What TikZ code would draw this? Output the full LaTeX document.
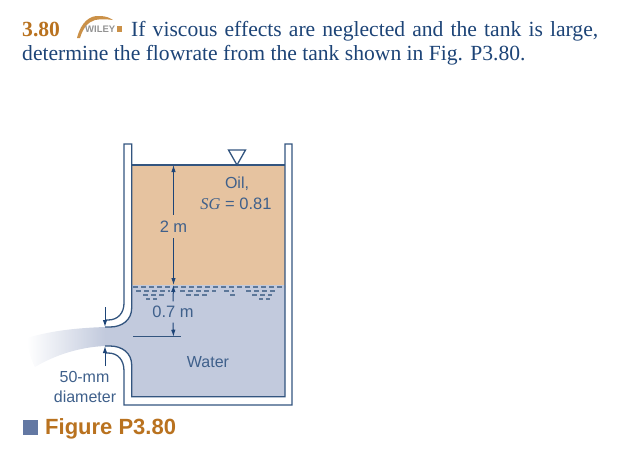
\documentclass[tikz,border=0pt]{standalone}
\usepackage{fontspec}
\usetikzlibrary{arrows.meta}
\setmainfont{Liberation Serif}
\setsansfont{Liberation Sans}
\begin{document}
\begin{tikzpicture}[x=1pt,y=-1pt,
  wall/.style={draw=wallc,line width=1.3pt},
  dim/.style={draw=textc,line width=1pt},
  arrowdim/.style={dim,-{Latex[length=7pt,width=4.5pt]}},
  lbl/.style={font=\sffamily\fontsize{16.5}{18}\selectfont,text=textc!85,inner sep=0pt,align=center},
  lblsm/.style={font=\sffamily\fontsize{16}{18}\selectfont,text=textc!85,inner sep=0pt,align=center},
  body/.style={font=\fontsize{21.6}{24}\selectfont,text=textc,inner sep=0pt,anchor=base west},
  ripple/.style={draw=wallc!80,line width=1.1pt,dash pattern=on 5pt off 3pt}]
\definecolor{textc}{HTML}{1D4477}
\definecolor{wallc}{HTML}{33557F}
\definecolor{oilc}{HTML}{E6C3A0}
\definecolor{waterc}{HTML}{C2CADD}
\definecolor{orangec}{HTML}{B9721F}
\definecolor{logoc}{HTML}{CB9148}
\definecolor{squarec}{HTML}{6378A3}
\useasboundingbox (0,0) rectangle (631,474);
% jet
\shade[left color=white,right color=waterc,shading angle=90]
  (105,327) .. controls (75,328) and (50,331) .. (27,338)
  .. controls (28,350) and (31,360) .. (35,367)
  .. controls (55,355) and (80,347) .. (105,346) -- cycle;
% fluids
\fill[waterc] (131.7,285) -- (285,285) -- (285,396.7) -- (131.7,396.7) -- (131.7,365)
  .. controls (131.7,353) and (122,346) .. (110,346) -- (105,346) -- (105,327) -- (110,327)
  .. controls (122,327) and (131.7,320) .. (131.7,308) -- cycle;
\fill[oilc] (131.7,165) rectangle (285,285);
% walls
\draw[wall] (105,320) -- (108,320) .. controls (118,320) and (124,313) .. (124,303)
  -- (124,144) -- (131.7,144) -- (131.7,308)
  .. controls (131.7,320) and (122,327) .. (110,327) -- (105,327);
\draw[wall] (105,346) -- (110,346) .. controls (122,346) and (131.7,353) .. (131.7,365)
  -- (131.7,396.7) -- (285,396.7) -- (285,144) -- (292,144) -- (292,405) -- (124,405)
  -- (124,371) .. controls (124,360) and (118,353) .. (108,353) -- (105,353);
\draw[wall] (131.7,165) -- (285,165);
% free surface symbol
\draw[wall] (228.5,150) -- (245.5,150) -- (237,165) -- cycle;
% ripples
\draw[ripple] (133,287) -- (285,287);
\draw[ripple] (136,291) -- (170,291) (180,291) -- (216,291) (224,291) -- (234,291) (246,291) -- (276,291);
\draw[ripple] (143,295) -- (166,295) (186,295) -- (208,295) (230,295) -- (235,295) (252,295) -- (272,295);
\draw[ripple,dash pattern=on 4pt off 3pt] (146,299) -- (158,299) (259,299) -- (272,299);
% dimensions
\node[lbl] (twom) at (173.5,226.5) {2 m};
\node[lbl] (sevenm) at (173,311.5) {0.7 m};
\coordinate (oiltop) at (173.5,165);
\coordinate (oilbot) at (173.5,285);
\coordinate (nozline) at (173.5,336.7);
\draw[arrowdim] (twom.north) ++(0,-6) -- (oiltop);
\draw[arrowdim] (twom.south) ++(0,6) -- (oilbot);
\draw[arrowdim] (sevenm.north) ++(0,-4) -- (oilbot);
\draw[arrowdim] (sevenm.south) ++(0,5) -- (nozline);
\draw[wall] (133,336.7) -- (181,336.7);
\coordinate (jettop) at (105,327);
\coordinate (jetbot) at (105,346);
\draw[arrowdim] (105,307) -- (jettop);
\draw[arrowdim] (105,366) -- (jetbot);
% labels
\node[lblsm] (oil) at (237,183.5) {Oil,};
\node[lbl,anchor=base] (sg) at (236,209) {\textit{\rmfamily SG} = 0.81};
\node[lblsm] (water) at (208,362.5) {Water};
\node[lblsm] (dia1) at (84.5,376.5) {50-mm};
\node[lblsm] (dia2) at (85,396.5) {diameter};
% figure caption
\fill[squarec] (23,419.5) rectangle (38,434.5);
\node[font=\sffamily\bfseries\fontsize{22}{24}\selectfont,text=orangec,inner sep=0pt,anchor=base west] (fig) at (45,434.5) {Figure P3.80};
% problem text
\node[font=\bfseries\fontsize{21.6}{24}\selectfont,text=orangec,inner sep=0pt,anchor=base west] (num) at (22,36.5) {3.80};
\fill[logoc] (77,38) .. controls (81,22) and (90,15) .. (100,16) .. controls (106,16) and (110,18) .. (113,20)
  .. controls (106,19) and (100,19) .. (95,20) .. controls (88,22) and (83,28) .. (80,38) -- cycle;
\node[font=\sffamily\bfseries\fontsize{9.5}{10}\selectfont,text=gray!85,inner sep=0pt,anchor=base west] (wiley) at (85,32.5) {WILEY};
\fill[logoc] (117,26) rectangle (122,31.5);
\node[body] (l1) at (131,36.5) {\makebox[467pt][s]{If viscous effects are neglected and the tank is large,}};
\node[body] (l2) at (22,60.5) {determine the flowrate from the tank shown in Fig. P3.80.};
\end{tikzpicture}
\end{document}
